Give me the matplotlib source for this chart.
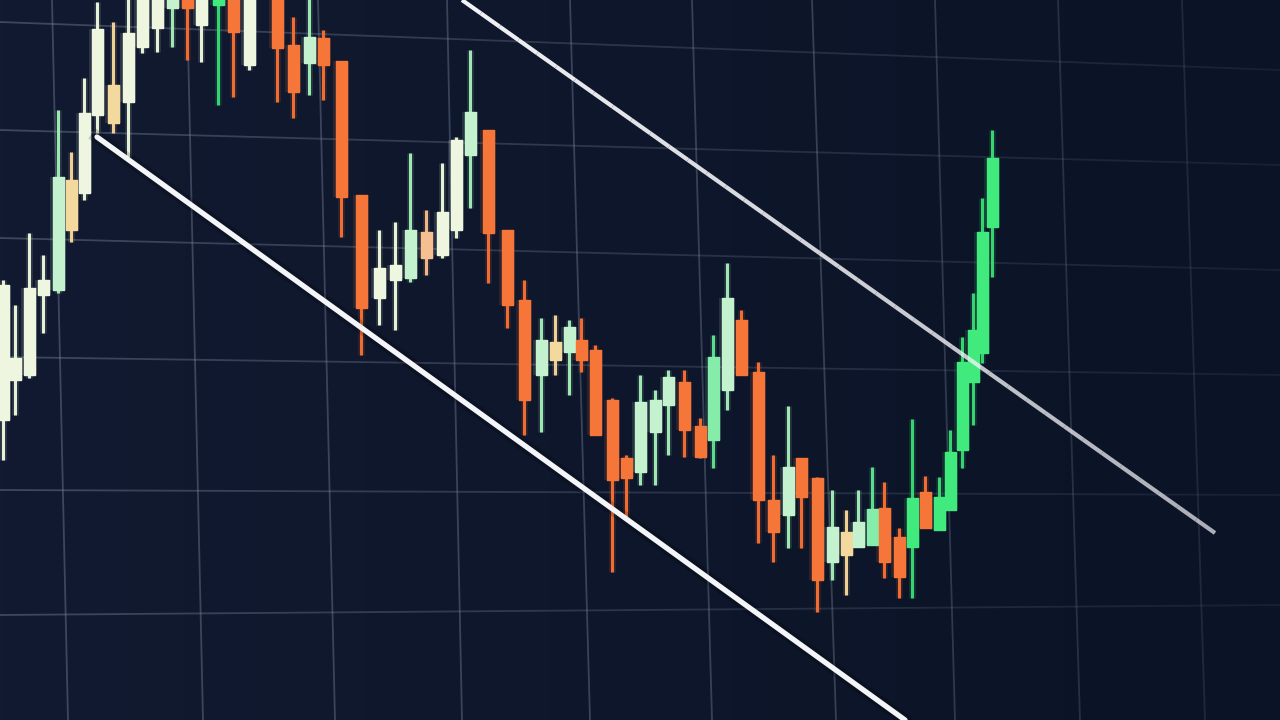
import matplotlib
matplotlib.use("Agg")
import matplotlib.pyplot as plt
from matplotlib.collections import LineCollection
import numpy as np

# ---- data (time position, prices; price axis = 720 - screen row) ----
t = [3, 15, 29, 43, 58, 71, 84, 97, 113, 128, 142, 157, 172, 187, 201, 218, 233, 249,
     277, 293, 309, 323, 341, 361, 379, 395, 410, 426, 442, 456, 470, 488, 507, 524,
     541, 555, 569, 581, 595, 612, 626, 640, 655, 668, 684, 700, 713, 727, 741, 758,
     773, 788, 801, 817, 832, 846, 858, 872, 884, 899, 912, 925, 939, 950, 962, 973,
     982, 992]
body_top = [285, 358, 288, 280, 177, 180, 113, 29, 85, 33, -10, -10, -10, -10, -10, -10, -10, -10,
            -10, 45, 37, 38, 61, 195, 268, 265, 230, 232, 212, 140, 112, 130, 230, 300,
            340, 342, 327, 340, 350, 400, 458, 402, 400, 377, 382, 426, 357, 298, 320, 372,
            500, 467, 458, 478, 527, 532, 522, 509, 508, 537, 498, 492, 497, 452, 362, 330,
            232, 158]
body_bot = [420, 380, 375, 295, 290, 230, 193, 115, 123, 102, 47, 28, 8, 8, 25, 5, 32, 65,
            48, 92, 63, 65, 197, 308, 298, 280, 278, 258, 255, 230, 155, 233, 305, 400,
            375, 360, 352, 360, 435, 480, 478, 472, 432, 405, 430, 457, 440, 390, 375, 500,
            532, 515, 497, 580, 562, 555, 547, 545, 562, 577, 547, 528, 530, 510, 450, 382,
            353, 227]
wick_top = [280, 305, 233, 255, 110, 152, 78, 2, 22, -10, -10, -10, -10, -10, -10, -10, -10, -10,
            -10, 17, -10, 30, 61, 195, 230, 222, 153, 210, 163, 137, 50, 130, 230, 280,
            318, 315, 320, 318, 345, 398, 455, 375, 390, 370, 370, 418, 335, 263, 310, 362,
            455, 406, 458, 477, 490, 510, 490, 467, 482, 528, 419, 476, 477, 430, 337, 293,
            198, 130]
wick_bot = [460, 415, 378, 333, 293, 242, 200, 133, 133, 157, 53, 52, 47, 60, 62, 105, 97, 70,
            102, 118, 95, 100, 237, 355, 325, 330, 282, 275, 258, 238, 208, 283, 328, 435,
            432, 375, 395, 372, 435, 572, 520, 485, 485, 455, 457, 458, 468, 410, 375, 543,
            562, 548, 548, 612, 580, 595, 547, 545, 578, 598, 598, 528, 530, 510, 468, 425,
            363, 277]
kind = ["W", "W", "W", "W", "L", "Y", "W", "W", "Y", "W", "W", "W", "L", "O", "W", "G", "O", "W",
        "O", "O", "L", "O", "O", "O", "W", "W", "L", "P", "W", "W", "L", "O", "O", "O",
        "L", "Y", "L", "O", "O", "O", "O", "L", "L", "L", "O", "O", "M", "L", "O", "O",
        "O", "L", "O", "O", "L", "Y", "L", "M", "O", "O", "G", "O", "G", "G", "G", "G",
        "G", "G"]

# trend lines (time, screen row)
upper_line_t = [462, 1215]
upper_line_y = [0, 533]
lower_line_t = [97, 905]
lower_line_y = [137, 720]

H = 720
to_price = lambda v: H - np.asarray(v, dtype=float)
o_hi = to_price(body_top)
o_lo = to_price(body_bot)
hi = to_price(wick_top)
lo = to_price(wick_bot)

colors = {"W": "#eef6df", "L": "#c4f2cf", "Y": "#f3d99e", "P": "#f6bf92",
          "O": "#f57638", "G": "#40ea7c", "M": "#86ecaa"}
wick_colors = {"W": "#e6f2d6", "L": "#9ee8b2", "Y": "#f0cf95", "P": "#f3b487",
               "O": "#f26c32", "G": "#36d46e", "M": "#5ddc8c"}

fig = plt.figure(figsize=(12.8, 7.2), dpi=100)
bg = "#0e1629"
fig.patch.set_facecolor(bg)
ax = fig.add_axes([0, 0, 1, 1])
ax.set_facecolor(bg)
ax.set_xlim(0, 1280)
ax.set_ylim(0, H)
ax.axis("off")

grad = np.linspace(0, 1, 256)[None, :]
ax.imshow(grad, extent=[0, 1280, 0, H], cmap=matplotlib.colors.LinearSegmentedColormap.from_list(
    "bgc", ["#111a30", "#0b1326"]), aspect="auto", zorder=0)


def faded_line(x0, y0, x1, y1, rgb, a0, a1, lw, z, n=40):
    xs = np.linspace(x0, x1, n + 1)
    ys = np.linspace(y0, y1, n + 1)
    segs = [[(xs[k], ys[k]), (xs[k + 1], ys[k + 1])] for k in range(n)]
    al = np.linspace(a0, a1, n)
    cols = [(*matplotlib.colors.to_rgb(rgb), a) for a in al]
    ax.add_collection(LineCollection(segs, colors=cols, linewidths=lw, zorder=z,
                                     capstyle="butt"))


# perspective grid
vgrid = [(52, 68), (187, 203), (318, 335), (447, 462), (570, 590), (692, 712),
         (812, 836), (935, 955), (1058, 1080), (1182, 1205)]
hgrid = [(22, 70), (130, 165), (238, 270), (357, 375), (490, 495), (615, 605)]
gc = "#7d879e"
for xt, xb in vgrid:
    a = float(np.interp(xt, [0, 800, 1280], [0.42, 0.38, 0.14]))
    ax.plot([xt, xb], [H, 0], color=gc, lw=1.3, alpha=a, zorder=1)
for yl, yr in hgrid:
    faded_line(0, H - yl, 1280, H - yr, gc, 0.42, 0.12, 1.3, 1)

# candles
bw = 11
for i in range(len(t)):
    c = colors[kind[i]]
    wc = wick_colors[kind[i]]
    ax.vlines(t[i], lo[i], hi[i], color=c, lw=5, alpha=0.12, zorder=2)
    ax.bar(t[i], o_hi[i] - o_lo[i], bottom=o_lo[i], width=bw + 5, color=c, alpha=0.13,
           zorder=2, linewidth=0)
    ax.vlines(t[i], lo[i], hi[i], color=wc, lw=2.2, zorder=3)
    ax.bar(t[i], max(o_hi[i] - o_lo[i], 3), bottom=o_lo[i], width=bw, color=c,
           edgecolor=c, linewidth=1.0, joinstyle="round", zorder=4)

# trend lines
faded_line(upper_line_t[0], H - upper_line_y[0], upper_line_t[1], H - upper_line_y[1],
           "#f2f3f6", 1.0, 0.7, 3.0, 5)
ax.plot(lower_line_t, to_price(lower_line_y), color="#000000", lw=9, alpha=0.18, zorder=4.5)
ax.plot(lower_line_t, to_price(lower_line_y), color="#f4f5f8", lw=3.8,
        solid_capstyle="round", zorder=5)

fig.savefig("out.png", dpi=100, facecolor=bg)
